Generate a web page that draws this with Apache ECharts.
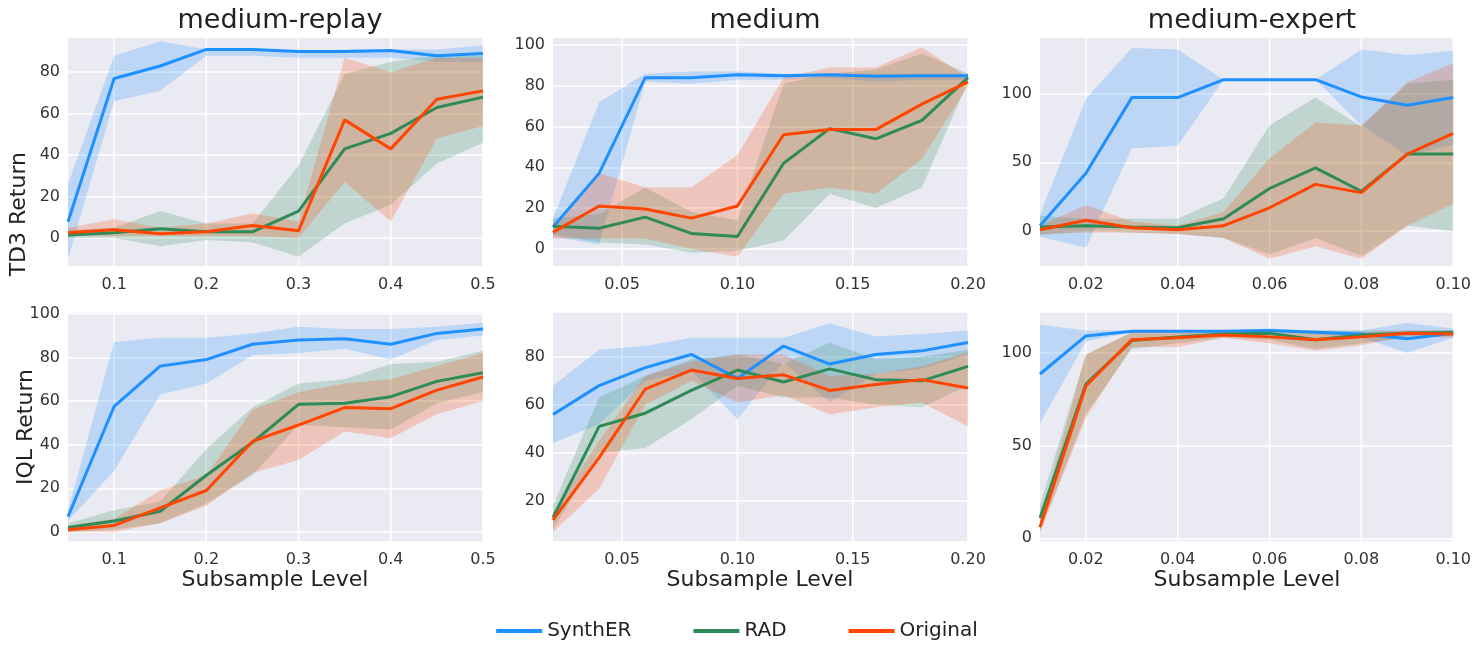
<!DOCTYPE html>
<html>
<head>
<meta charset="utf-8">
<script src="https://cdn.jsdelivr.net/npm/echarts@6/dist/echarts.min.js"></script>
<style>
  html, body { margin: 0; padding: 0; background: #fff; }
  #chart { width: 1474px; height: 652px; }
</style>
</head>
<body>
<div id="chart"></div>
<script>
// subsample levels
const xsReplay = [0.05, 0.1, 0.15, 0.2, 0.25, 0.3, 0.35, 0.4, 0.45, 0.5];
const xsMedium = [0.02, 0.04, 0.06, 0.08, 0.10, 0.12, 0.14, 0.16, 0.18, 0.20];
const xsExpert = [0.01, 0.02, 0.03, 0.04, 0.05, 0.06, 0.07, 0.08, 0.09, 0.10];

// TD3 medium-replay
const td3ReplaySyn = [7.8, 77, 83, 91, 91, 90, 90, 90.5, 88, 89];
const td3ReplaySynHi = [26, 88, 95, 91, 91, 90, 91, 91, 91, 93];
const td3ReplaySynLo = [-10, 66, 71, 88, 88, 87, 87, 87, 85, 85];
const td3ReplayOrig = [2.5, 4, 2, 3, 6, 3.5, 57, 43, 67, 71];
const td3ReplayOrigHi = [5, 9, 5, 7, 12, 8, 87, 80, 87, 87];
const td3ReplayOrigLo = [1, 1, 1, 1, 1, 0, 27, 8, 48, 54];
const td3ReplayRad = [1.5, 2.5, 4.5, 3, 3, 13, 43, 50.5, 63, 68];
const td3ReplayRadHi = [4, 5, 13, 7, 7, 35, 79, 85, 88, 88];
const td3ReplayRadLo = [0, 0, -4, -1, -2, -9, 7, 16, 36, 46];

// TD3 medium
const td3MedSyn = [10.7, 37, 84, 84, 85.5, 85, 85.5, 84.7, 85, 85];
const td3MedSynHi = [15, 72, 86, 87, 87, 86, 86, 86, 86, 86];
const td3MedSynLo = [6, 2, 82, 81, 83, 83, 84, 82, 83, 83];
const td3MedOrig = [8, 21, 19.5, 15, 21, 56, 58.5, 58.5, 71, 82];
const td3MedOrigHi = [12, 37, 30, 30, 46, 84, 89, 89, 99, 84];
const td3MedOrigLo = [5, 5, 5, 0, -4, 27, 30, 27, 44, 80];
const td3MedRad = [11, 10, 15.5, 7.5, 6, 42, 59, 54, 63, 84];
const td3MedRadHi = [15, 17, 30, 18, 14, 81, 86, 88, 96, 86];
const td3MedRadLo = [7, 3, 2, -2, -1, 4, 27, 20, 30, 82];

// TD3 medium-expert
const td3ExpSyn = [4, 42, 97, 97, 110, 110, 110, 97.5, 91.5, 97];
const td3ExpSynHi = [12, 96, 133, 132, 110, 110, 110, 132, 128, 131];
const td3ExpSynLo = [-4, -12, 60, 62, 110, 110, 110, 77, 55, 63];
const td3ExpOrig = [1, 8, 2.5, 1, 4, 17, 34, 28, 56, 71];
const td3ExpOrigHi = [4, 19, 7, 4, 14, 53, 79, 77, 108, 122];
const td3ExpOrigLo = [-2, -1, -1, -2, -5, -20, -11, -20, 4, 20];
const td3ExpRad = [3, 4, 3, 2.5, 9, 31, 46, 29, 56, 56];
const td3ExpRadHi = [11, 9, 9, 9, 24, 77, 97, 76, 107, 110];
const td3ExpRadLo = [-3, 0, -1, -2, -5, -17, -5, -18, 4, 0];

// IQL medium-replay
const iqlReplaySyn = [7, 57.5, 76, 79, 86, 88, 88.5, 86, 91, 93];
const iqlReplaySynHi = [10, 87, 89, 89, 91, 94, 93, 93, 94, 96];
const iqlReplaySynLo = [5, 28, 63, 68, 81, 82, 84, 79, 88, 90];
const iqlReplayOrig = [1, 3, 11, 19, 41.5, 49, 57, 56.5, 65, 71];
const iqlReplayOrigHi = [3, 6, 19, 26, 56, 64, 68, 70, 76, 82];
const iqlReplayOrigLo = [0, 0, 4, 12, 27, 33, 46, 43, 54, 60];
const iqlReplayRad = [2, 5, 9.5, 26, 41, 58.5, 59, 62, 69, 73];
const iqlReplayRadHi = [4, 10, 14, 38, 57, 68, 70, 77, 78, 83];
const iqlReplayRadLo = [0, 1, 4, 13, 26, 49, 48, 47, 59, 64];

// IQL medium
const iqlMedSyn = [56, 68, 75.5, 81, 71, 84.5, 77, 81, 82.5, 86];
const iqlMedSynHi = [68, 83, 84.5, 88, 88, 88, 94, 88.5, 89.5, 91];
const iqlMedSynLo = [44, 52, 70, 74, 54, 78, 61, 73, 75, 81];
const iqlMedOrig = [12, 38, 66.5, 74.5, 71, 72.5, 66, 68.5, 70.5, 67];
const iqlMedOrigHi = [15, 45, 72, 78, 81, 81, 72, 73, 76, 82];
const iqlMedOrigLo = [7, 25, 60, 70, 61, 64, 56, 59, 61, 51];
const iqlMedRad = [13, 51, 56.5, 66, 74.5, 69.5, 75, 70.5, 70, 76];
const iqlMedRadHi = [18, 63, 72, 79, 81, 77, 86, 79, 80, 83];
const iqlMedRadLo = [8, 40, 42, 54, 68, 63, 63, 60, 59, 68];

// IQL medium-expert
const iqlExpSyn = [88.5, 109, 111.5, 111.5, 111.5, 112, 111, 110, 107.5, 110.5];
const iqlExpSynHi = [115, 112, 112, 112, 112, 113, 112, 112, 116, 113];
const iqlExpSynLo = [62, 106, 111, 111, 111, 111, 110, 108, 100, 108];
const iqlExpOrig = [6, 82, 107, 108, 109.5, 108.5, 107, 108.5, 110.5, 110];
const iqlExpOrigHi = [10, 99, 111, 111, 111, 111, 110, 111, 112, 112];
const iqlExpOrigLo = [3, 65, 103, 103, 108, 105, 101, 104, 109, 108];
const iqlExpRad = [11, 83, 106.5, 108.5, 110, 110.5, 107, 109.5, 110.5, 111];
const iqlExpRadHi = [18, 99, 111, 111, 111, 111, 112, 112, 112, 112];
const iqlExpRadLo = [4, 67, 102, 105, 108, 107, 102, 105, 108, 109];

const titles = ['medium-replay', 'medium', 'medium-expert'];

const BLUE = '#1E90FF', GREEN = '#2E8B57', RED = '#FF4500';
const FONT = 'DejaVu Sans';

const panels = [
  { xs: xsReplay, xr: [0.05, 0.5], yr: [-14, 97], dec: 1, syn: [td3ReplaySyn, td3ReplaySynLo, td3ReplaySynHi], rad: [td3ReplayRad, td3ReplayRadLo, td3ReplayRadHi], orig: [td3ReplayOrig, td3ReplayOrigLo, td3ReplayOrigHi] },
  { xs: xsMedium, xr: [0.02, 0.2], yr: [-9, 104], dec: 2, syn: [td3MedSyn, td3MedSynLo, td3MedSynHi], rad: [td3MedRad, td3MedRadLo, td3MedRadHi], orig: [td3MedOrig, td3MedOrigLo, td3MedOrigHi] },
  { xs: xsExpert, xr: [0.01, 0.1], yr: [-26, 141], dec: 2, step: 50, syn: [td3ExpSyn, td3ExpSynLo, td3ExpSynHi], rad: [td3ExpRad, td3ExpRadLo, td3ExpRadHi], orig: [td3ExpOrig, td3ExpOrigLo, td3ExpOrigHi] },
  { xs: xsReplay, xr: [0.05, 0.5], yr: [-4.6, 100.8], dec: 1, syn: [iqlReplaySyn, iqlReplaySynLo, iqlReplaySynHi], rad: [iqlReplayRad, iqlReplayRadLo, iqlReplayRadHi], orig: [iqlReplayOrig, iqlReplayOrigLo, iqlReplayOrigHi] },
  { xs: xsMedium, xr: [0.02, 0.2], yr: [2.8, 98.7], dec: 2, syn: [iqlMedSyn, iqlMedSynLo, iqlMedSynHi], rad: [iqlMedRad, iqlMedRadLo, iqlMedRadHi], orig: [iqlMedOrig, iqlMedOrigLo, iqlMedOrigHi] },
  { xs: xsExpert, xr: [0.01, 0.1], yr: [-2, 121.9], dec: 2, step: 25, syn: [iqlExpSyn, iqlExpSynLo, iqlExpSynHi], rad: [iqlExpRad, iqlExpRadLo, iqlExpRadHi], orig: [iqlExpOrig, iqlExpOrigLo, iqlExpOrigHi] }
];

const lefts = [68, 553, 1040];
const tops = [37, 312];

var grid = [], xAxis = [], yAxis = [], series = [];

panels.forEach(function (p, k) {
  const col = k % 3, row = Math.floor(k / 3);
  grid.push({ left: lefts[col], top: tops[row], width: 415, height: 230, backgroundColor: '#EAEAF2', show: true, borderWidth: 0 });
  xAxis.push({
    type: 'value', gridIndex: k, min: p.xr[0], max: p.xr[1],
    interval: p.xr[0] === 0.05 ? 0.05 : (p.dec === 2 && p.xr[0] === 0.02 ? 0.01 : 0.01),
    axisLine: { show: false }, axisTick: { show: false },
    axisLabel: {
      color: '#333', fontSize: 16, fontFamily: FONT, margin: 10,
      formatter: function (v) {
        const r = Math.round(v * 100);
        if (p.xr[0] === 0.05) return (r % 10 === 0) ? (r / 100).toFixed(1) : '';
        if (p.xr[0] === 0.02) return (r % 5 === 0) ? (r / 100).toFixed(2) : '';
        return (r % 2 === 0 && r > 1) ? (r / 100).toFixed(2) : '';
      }
    },
    splitLine: { show: false }
  });
  yAxis.push({
    type: 'value', gridIndex: k, min: p.yr[0], max: p.yr[1],
    splitNumber: p.step ? 3 : 5,
    axisLine: { show: false }, axisTick: { show: false },
    axisLabel: { color: '#333', fontSize: 16, fontFamily: FONT, showMinLabel: false, showMaxLabel: false, margin: 8 },
    splitLine: { lineStyle: { color: '#fff', width: 1.5 } }
  });
  // vertical grid lines at labelled ticks
  const vt = p.xr[0] === 0.05 ? [0.1, 0.2, 0.3, 0.4, 0.5] : (p.xr[0] === 0.02 ? [0.05, 0.1, 0.15, 0.2] : [0.02, 0.04, 0.06, 0.08, 0.1]);
  series.push({
    type: 'custom', xAxisIndex: k, yAxisIndex: k, silent: true, z: 1,
    data: vt,
    renderItem: function (params, api) {
      const a = api.coord([api.value(0), p.yr[0]]);
      const b = api.coord([api.value(0), p.yr[1]]);
      return { type: 'line', shape: { x1: a[0], y1: a[1], x2: b[0], y2: b[1] }, style: { stroke: '#fff', lineWidth: 1.5 } };
    }
  });
  [['SynthER', p.syn, BLUE], ['RAD', p.rad, GREEN], ['Original', p.orig, RED]].forEach(function (s) {
    const mean = s[1][0], lo = s[1][1], hi = s[1][2], color = s[2];
    series.push({
      type: 'custom', xAxisIndex: k, yAxisIndex: k, silent: true, z: 2, clip: true,
      data: [0],
      renderItem: function (params, api) {
        const pts = [];
        for (let i = 0; i < p.xs.length; i++) pts.push(api.coord([p.xs[i], hi[i]]));
        for (let i = p.xs.length - 1; i >= 0; i--) pts.push(api.coord([p.xs[i], lo[i]]));
        return { type: 'polygon', shape: { points: pts }, style: { fill: color, opacity: 0.22 } };
      }
    });
    series.push({
      name: s[0], type: 'line', xAxisIndex: k, yAxisIndex: k, z: 3,
      data: p.xs.map(function (x, i) { return [x, mean[i]]; }),
      showSymbol: false, symbol: 'none',
      lineStyle: { color: color, width: 3 }, itemStyle: { color: color }
    });
  });
});

var myChart = echarts.init(document.getElementById('chart'));
var option = {
  animation: false,
  title: titles.map(function (t, i) {
    return { text: t, left: lefts[i] + 207, top: 2, textAlign: 'center', textStyle: { fontSize: 27, fontWeight: 'normal', color: '#222', fontFamily: FONT } };
  }),
  graphic: [
    { type: 'text', left: 8, top: 152, rotation: Math.PI / 2, style: { text: 'TD3 Return', fontSize: 22, fill: '#222', fontFamily: FONT, textAlign: 'center', textVerticalAlign: 'middle' }, x: 26, y: 152 },
    { type: 'text', x: 26, y: 427, rotation: Math.PI / 2, style: { text: 'IQL Return', fontSize: 22, fill: '#222', fontFamily: FONT, textAlign: 'center', textVerticalAlign: 'middle' } },
    { type: 'text', x: 275, y: 580, style: { text: 'Subsample Level', fontSize: 22, fill: '#222', fontFamily: FONT, textAlign: 'center', textVerticalAlign: 'middle' } },
    { type: 'text', x: 760, y: 580, style: { text: 'Subsample Level', fontSize: 22, fill: '#222', fontFamily: FONT, textAlign: 'center', textVerticalAlign: 'middle' } },
    { type: 'text', x: 1247, y: 580, style: { text: 'Subsample Level', fontSize: 22, fill: '#222', fontFamily: FONT, textAlign: 'center', textVerticalAlign: 'middle' } }
  ],
  legend: {
    data: ['SynthER', 'RAD', 'Original'], bottom: 6, left: 'center',
    itemWidth: 46, itemHeight: 4, itemGap: 62, icon: 'rect',
    textStyle: { fontSize: 20, color: '#222', fontFamily: FONT }
  },
  grid: grid, xAxis: xAxis, yAxis: yAxis, series: series
};
myChart.setOption(option);
</script>
</body>
</html>
